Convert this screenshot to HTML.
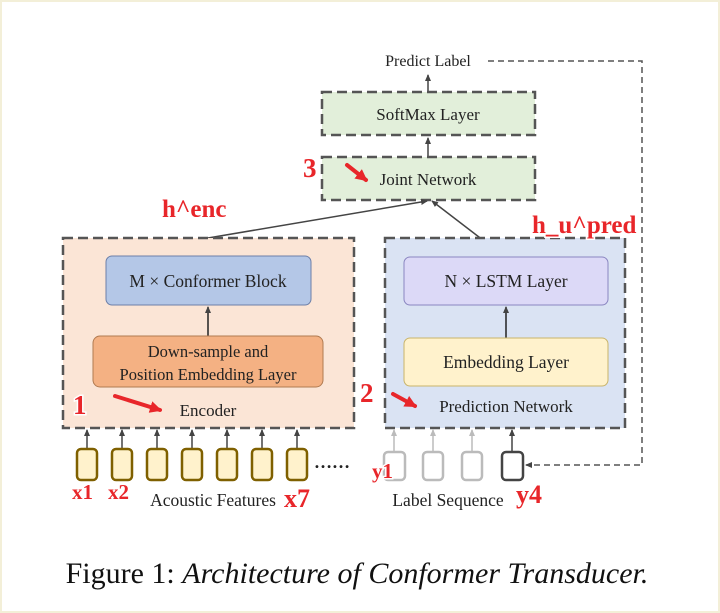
<!DOCTYPE html>
<html><head><meta charset="utf-8"><style>
body{margin:0;background:#fff;}
svg{display:block}
.t{font-family:"Liberation Serif",serif;fill:#222}
.r{font-family:"Liberation Serif",serif;font-weight:bold;fill:#e8262a;stroke:#fff;stroke-width:3;paint-order:stroke;}
</style></head><body>
<svg width="720" height="613" viewBox="0 0 720 613" xmlns="http://www.w3.org/2000/svg">
<defs>
<marker id="a" markerWidth="8" markerHeight="8" refX="6" refY="4" orient="auto" markerUnits="userSpaceOnUse"><path d="M0,1 L7,4 L0,7 z" fill="#444"/></marker>
<marker id="ag" markerWidth="8" markerHeight="8" refX="6" refY="4" orient="auto" markerUnits="userSpaceOnUse"><path d="M0,1 L7,4 L0,7 z" fill="#bbb"/></marker>
<marker id="ar" markerWidth="14" markerHeight="14" refX="10" refY="6" orient="auto" markerUnits="userSpaceOnUse"><path d="M0,0 L12,6 L0,12 z" fill="#e8262a"/></marker>
</defs>
<rect x="1" y="1" width="718" height="611" fill="none" stroke="#f3efd8" stroke-width="2"/>
<text x="428" y="66" class="t" font-size="16" text-anchor="middle">Predict Label</text>
<path d="M488,61 H642 V465 H526" fill="none" stroke="#555" stroke-width="1.5" stroke-dasharray="6,4" marker-end="url(#a)"/>
<line x1="428" y1="92" x2="428" y2="75" stroke="#444" stroke-width="1.5" marker-end="url(#a)"/>
<rect x="322" y="92" width="213" height="43" fill="#e2efda" stroke="#555" stroke-width="2.5" stroke-dasharray="10,5"/>
<text x="428" y="120" class="t" font-size="17" text-anchor="middle">SoftMax Layer</text>
<line x1="428" y1="157" x2="428" y2="138" stroke="#444" stroke-width="1.5" marker-end="url(#a)"/>
<rect x="322" y="157" width="213" height="43" fill="#e2efda" stroke="#555" stroke-width="2.5" stroke-dasharray="10,5"/>
<text x="428" y="185" class="t" font-size="17" text-anchor="middle">Joint Network</text>
<line x1="208" y1="238" x2="427" y2="201" stroke="#444" stroke-width="1.5" marker-end="url(#a)"/>
<line x1="505" y1="257" x2="432" y2="201" stroke="#444" stroke-width="1.5" marker-end="url(#a)"/>
<rect x="63" y="238" width="291" height="190" fill="#fbe5d6" stroke="#555" stroke-width="2.5" stroke-dasharray="10,5"/>
<rect x="106" y="256" width="205" height="49" rx="6" fill="#b4c7e7" stroke="#6c7fa8"/>
<text x="208" y="287" class="t" font-size="17.5" text-anchor="middle">M × Conformer Block</text>
<line x1="208" y1="336" x2="208" y2="307" stroke="#222" stroke-width="1.5" marker-end="url(#a)"/>
<rect x="93" y="336" width="230" height="51" rx="7" fill="#f4b183" stroke="#b07a50"/>
<text x="208" y="357" class="t" font-size="16.5" text-anchor="middle">Down-sample and</text>
<text x="208" y="380" class="t" font-size="16.5" text-anchor="middle">Position Embedding Layer</text>
<text x="208" y="416" class="t" font-size="17" text-anchor="middle">Encoder</text>
<rect x="385" y="238" width="240" height="190" fill="#dae3f3" stroke="#555" stroke-width="2.5" stroke-dasharray="10,5"/>
<rect x="404" y="257" width="204" height="48" rx="6" fill="#dcd9f7" stroke="#8a86c0"/>
<text x="506" y="287" class="t" font-size="17.5" text-anchor="middle">N × LSTM Layer</text>
<line x1="506" y1="338" x2="506" y2="307" stroke="#222" stroke-width="1.5" marker-end="url(#a)"/>
<rect x="404" y="338" width="204" height="48" rx="6" fill="#fff2cc" stroke="#c9b46a"/>
<text x="506" y="368" class="t" font-size="17.5" text-anchor="middle">Embedding Layer</text>
<text x="506" y="412" class="t" font-size="17" text-anchor="middle">Prediction Network</text>
<g stroke="#444" stroke-width="1.5">
<line x1="87" y1="448" x2="87" y2="430" marker-end="url(#a)"/>
<line x1="122" y1="448" x2="122" y2="430" marker-end="url(#a)"/>
<line x1="157" y1="448" x2="157" y2="430" marker-end="url(#a)"/>
<line x1="192" y1="448" x2="192" y2="430" marker-end="url(#a)"/>
<line x1="227" y1="448" x2="227" y2="430" marker-end="url(#a)"/>
<line x1="262" y1="448" x2="262" y2="430" marker-end="url(#a)"/>
<line x1="297" y1="448" x2="297" y2="430" marker-end="url(#a)"/>
</g>
<g fill="#fff2cc" stroke="#7f6000" stroke-width="2.5">
<rect x="77" y="449" width="20" height="31" rx="4"/>
<rect x="112" y="449" width="20" height="31" rx="4"/>
<rect x="147" y="449" width="20" height="31" rx="4"/>
<rect x="182" y="449" width="20" height="31" rx="4"/>
<rect x="217" y="449" width="20" height="31" rx="4"/>
<rect x="252" y="449" width="20" height="31" rx="4"/>
<rect x="287" y="449" width="20" height="31" rx="4"/>
</g>
<text x="314" y="468" class="t" font-size="18" font-weight="bold">……</text>
<g stroke="#bbb" stroke-width="1.5">
<line x1="394" y1="452" x2="394" y2="430" marker-end="url(#ag)"/>
<line x1="433" y1="452" x2="433" y2="430" marker-end="url(#ag)"/>
<line x1="472" y1="452" x2="472" y2="430" marker-end="url(#ag)"/>
</g>
<line x1="512" y1="452" x2="512" y2="430" stroke="#444" stroke-width="1.5" marker-end="url(#a)"/>
<g fill="#fff" stroke="#bbb" stroke-width="2.5">
<rect x="384" y="452" width="21" height="28" rx="4"/>
<rect x="423" y="452" width="20" height="28" rx="4"/>
<rect x="462" y="452" width="20" height="28" rx="4"/>
</g>
<rect x="502" y="452" width="21" height="28" rx="4" fill="#fff" stroke="#444" stroke-width="2.5"/>
<text x="213" y="506" class="t" font-size="17.5" text-anchor="middle">Acoustic Features</text>
<text x="448" y="506" class="t" font-size="17.5" text-anchor="middle">Label Sequence</text>
<text x="72" y="499" class="r" font-size="21">x1</text>
<text x="108" y="499" class="r" font-size="21">x2</text>
<text x="284" y="507" class="r" font-size="26">x7</text>
<text x="372" y="478" class="r" font-size="21">y1</text>
<text x="516" y="503" class="r" font-size="26">y4</text>
<text x="73" y="414" class="r" font-size="27">1</text>
<text x="360" y="402" class="r" font-size="27">2</text>
<text x="303" y="177" class="r" font-size="27">3</text>
<text x="162" y="217" class="r" font-size="25">h^enc</text>
<text x="532" y="233" class="r" font-size="25">h_u^pred</text>
<g stroke="#e8262a" stroke-width="4" stroke-linecap="round">
<line x1="115" y1="396" x2="160" y2="410" marker-end="url(#ar)"/>
<line x1="393" y1="394" x2="415" y2="406" marker-end="url(#ar)"/>
<line x1="347" y1="165" x2="366" y2="180" marker-end="url(#ar)"/>
</g>
<text x="357" y="583" font-family="Liberation Serif,serif" font-size="30" fill="#111" text-anchor="middle">Figure 1: <tspan font-style="italic">Architecture of Conformer Transducer.</tspan></text>
</svg>
</body></html>
